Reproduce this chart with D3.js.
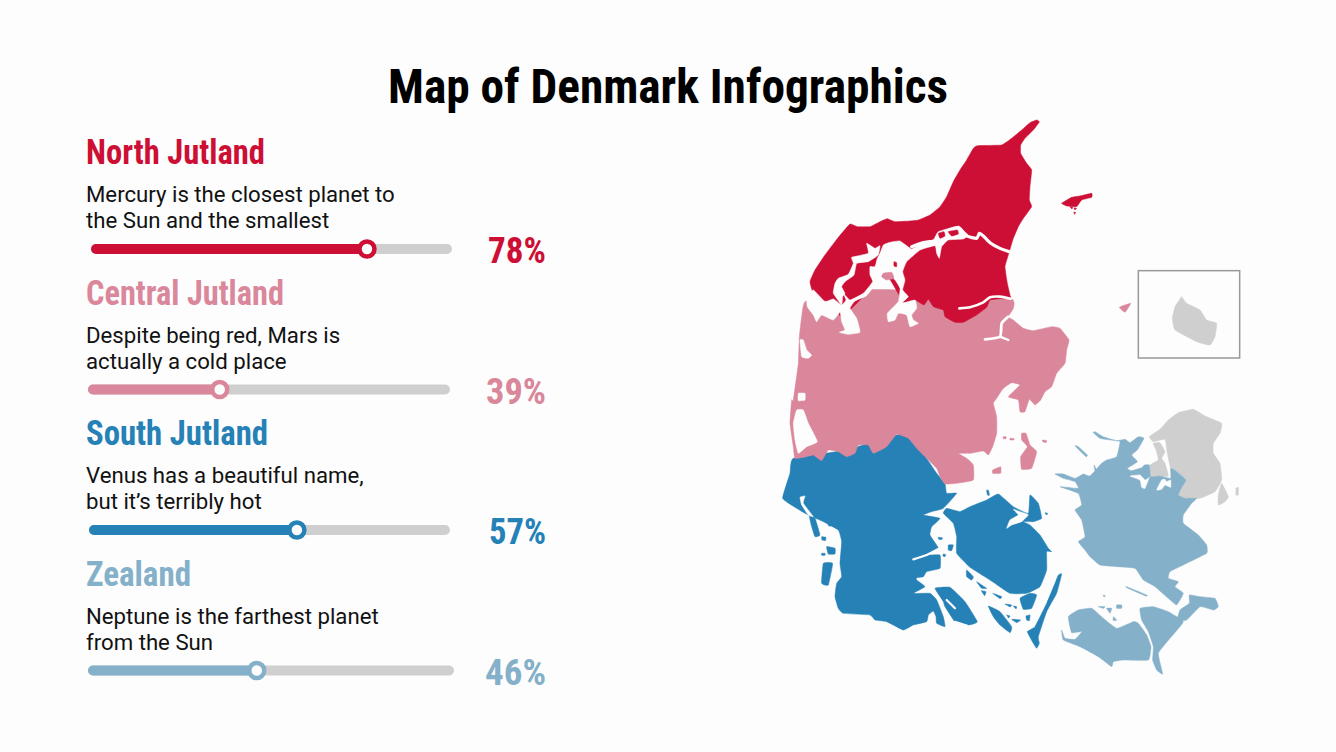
<!DOCTYPE html>
<html><head><meta charset="utf-8">
<script src="https://cdn.jsdelivr.net/npm/d3@7"></script>
<style>html,body{margin:0;padding:0;background:#fdfdfd}svg{display:block}</style>
</head><body><svg id="c" width="1336" height="752"></svg>
<script>
// ---------- chart values ----------
const title = "Map of Denmark Infographics";
const regions = ["North Jutland","Central Jutland","South Jutland","Zealand"];
const percents = [78,39,57,46];
const sliderReadings = [77.2,36,57.8,46];
const descriptions = [
 ["Mercury is the closest planet to","the Sun and the smallest"],
 ["Despite being red, Mars is","actually a cold place"],
 ["Venus has a beautiful name,","but it’s terribly hot"],
 ["Neptune is the farthest planet","from the Sun"]];
const colors = ["#cd0f35","#da879b","#2581b6","#84b0c9"];
const grey = "#cfcfcf", bg = "#fdfdfd";

// ---------- map outlines; each list has its own survey sheet ----------
const sheets = {
 n:{x:[0,1440,770,1250],y:[0,870,110,400]},
 s:{x:[0,1440,770,1250],y:[0,870,390,680]},
 e:{x:[0,870,780,1070],y:[0,510,480,650]},
 d:{x:[0,600,1050,1250],y:[0,390,400,530]},
 l:{x:[0,510,800,970],y:[0,330,225,335]}
};
const northMain=[[120,515],[135,480],[165,435],[195,395],[215,370],[240,342],[262,350],[300,350],[330,335],[352,326],[375,335],[420,333],[445,330],[480,315],[510,290],[530,260],[550,215],[570,180],[590,150],[610,115],[622,107],[695,105],[725,85],[755,60],[780,38],[800,30],[808,36],[790,60],[765,85],[752,105],[752,130],[770,160],[785,180],[780,230],[778,270],[785,290],[760,325],[745,350],[730,385],[718,425],[705,470],[712,520],[720,555],[722,566],[690,566],[660,570],[650,592],[620,615],[580,637],[555,637],[525,620],[520,600],[490,590],[475,568],[462,585],[435,570],[400,575],[340,480],[280,560],[215,620],[180,575],[150,570],[128,545]];
const laeso=[[875,280],[905,262],[930,258],[965,250],[965,262],[935,270],[920,290],[890,288]];
const laesoDots1=[[900,290],[908,291],[906,297]], laesoDots2=[[912,294],[920,295],[915,300]], laesoDots3=[[911,307],[917,307],[914,313]];
const limIslet1=[[505,370],[522,365],[525,378],[510,385]], limIslet2=[[535,365],[562,360],[565,372],[545,378]], limIslet3=[[372,455],[380,458],[380,470],[372,468]];

const centralMain=[[105,575],[95,620],[88,680],[85,760],[70,870],[65,870],[60,940],[70,1010],[75,1045],[110,1040],[130,1035],[155,1052],[175,1020],[205,1025],[230,1040],[255,1030],[265,1005],[295,1005],[310,1030],[350,1010],[380,973],[415,985],[440,1015],[470,1045],[500,1075],[510,1100],[525,1122],[560,1120],[610,1110],[610,1065],[590,1045],[565,1030],[600,1030],[640,1023],[655,1035],[668,1010],[680,970],[680,920],[670,880],[680,865],[700,835],[725,818],[750,825],[715,860],[745,870],[750,905],[765,905],[778,868],[795,885],[812,870],[825,845],[845,830],[860,790],[885,760],[890,720],[897,690],[870,655],[845,650],[790,662],[760,655],[730,630],[715,620],[730,595],[720,565],[400,540],[200,540]];
const anholt=[[1048,592],[1082,580],[1065,607]];
const samso=[[755,130],[768,130],[780,165],[800,185],[785,235],[755,238],[752,200],[772,170],[755,150]];
const isletC1=[[668,240],[692,230],[692,250],[668,250]], isletC2=[[700,140],[708,140],[708,146],[700,146]], isletC3=[[720,145],[732,146],[732,150],[720,150]], isletC4=[[818,150],[830,152],[828,158],[818,155]];
const mariagerPink=[[340,490],[365,487],[372,505],[350,510],[335,500]];

const southMain=[[40,-65],[30,-20],[8,55],[50,85],[75,100],[100,112],[130,125],[175,150],[185,185],[180,250],[185,290],[170,310],[165,350],[175,385],[190,400],[270,405],[285,420],[320,425],[370,450],[400,435],[440,425],[445,405],[460,393],[468,410],[470,430],[495,440],[490,410],[470,360],[450,340],[400,340],[435,320],[410,300],[410,293],[430,290],[440,275],[480,265],[480,225],[440,225],[475,205],[450,165],[455,140],[480,115],[430,105],[455,95],[490,85],[530,40],[500,40],[495,12],[470,-20],[380,-140],[200,-90]];
const fyn=[[500,85],[540,95],[570,80],[620,60],[655,42],[700,80],[745,100],[750,45],[775,70],[785,115],[760,125],[730,125],[750,135],[780,165],[805,205],[815,215],[800,215],[800,270],[780,320],[740,340],[690,340],[630,300],[570,262],[530,220],[530,170],[520,130],[490,100]];
const als=[[465,325],[510,322],[555,365],[592,425],[565,435],[525,425],[495,380],[490,365]];
const langeland=[[845,282],[830,340],[800,395],[775,470],[778,490],[770,505],[760,490],[742,455],[765,440],[800,370],[825,310],[835,285]];
const aero=[[625,378],[660,395],[695,440],[690,458],[660,435],[640,410]];
const tasinge=[[720,355],[750,340],[770,345],[755,385],[730,388]];
const fano=[[88,108],[105,115],[120,165],[105,170],[95,140]];
const romo=[[130,250],[158,250],[145,315],[125,310]];
const mando=[[140,200],[165,205],[165,222],[145,222]];
const southIslets=[
 [[125,170],[138,172],[136,182],[126,180]],[[125,220],[135,220],[135,226],[125,226]],[[145,130],[160,132],[158,138],[146,138]],
 [[505,195],[520,195],[515,212],[505,210]],[[475,172],[488,174],[484,179],[476,178]],[[490,222],[497,224],[495,230],[489,228]],
 [[560,270],[580,290],[575,300],[560,290]],[[590,305],[620,325],[605,325]],[[604,332],[618,335],[614,347]],
 [[638,340],[665,350],[660,356]],[[675,372],[695,375],[690,381]],[[700,378],[710,380],[708,387]],[[680,405],[690,408],[686,414]],
 [[695,418],[722,420],[710,428]],[[738,408],[750,405],[748,422],[740,420]],[[620,30],[626,32],[628,46],[622,44]],[[795,98],[803,100],[800,105]]];

const zealandMain=[[15,222],[40,222],[75,235],[100,222],[120,228],[155,190],[170,180],[200,170],[210,125],[180,120],[150,115],[130,98],[135,95],[160,110],[200,122],[225,118],[240,128],[265,110],[282,115],[262,150],[245,165],[262,185],[232,205],[245,212],[275,203],[283,195],[298,195],[302,230],[330,228],[362,235],[362,205],[380,215],[408,240],[395,262],[385,285],[405,295],[440,295],[425,310],[400,345],[400,370],[445,405],[470,435],[470,460],[410,490],[360,515],[355,535],[385,545],[375,560],[400,580],[380,615],[355,595],[315,560],[280,540],[255,505],[200,500],[150,495],[120,470],[105,450],[85,425],[105,410],[95,360],[75,330],[95,315],[85,280],[30,260],[85,265],[75,245],[40,235]];
const lolland=[[895,680],[925,660],[965,655],[1000,685],[1040,715],[1090,695],[1105,700],[1130,735],[1143,770],[1135,810],[1060,810],[1030,815],[1025,830],[985,800],[930,770],[880,750],[875,720],[885,745],[915,748],[935,725],[905,728]];
const falster=[[1110,655],[1150,650],[1195,665],[1240,695],[1200,745],[1165,790],[1178,852],[1160,840],[1148,810],[1150,770],[1135,725],[1115,690]];
const mon=[[1222,690],[1230,660],[1258,640],[1258,615],[1290,620],[1335,625],[1345,650],[1330,660],[1290,650],[1250,690]];
const zealandIslets=[[[75,138],[85,140],[112,165],[108,170]],[[132,195],[140,210],[135,212]]];
const southZealandIslets=[[[1040,645],[1055,645],[1055,655],[1040,655]],[[985,650],[1005,650],[1000,655]],[[1010,655],[1025,655],[1020,670]],[[1030,680],[1040,690],[1030,692]],[[1070,590],[1130,615],[1128,618],[1070,593]],[[1000,615],[1006,617],[1002,621]]];

const capitalMain=[[298,110],[330,88],[355,60],[385,38],[430,28],[465,48],[515,70],[510,100],[490,130],[490,160],[510,190],[515,240],[495,275],[450,295],[405,295],[385,285],[395,262],[408,240],[380,215],[362,205],[352,160],[345,118],[310,125]];
const capitalWest=[[310,130],[330,128],[345,155],[335,175],[345,190],[355,228],[330,228],[302,230],[300,195],[325,180],[318,150]];
const amager=[[515,250],[535,290],[525,305],[505,315],[505,285]];
const ven=[[558,265],[565,262],[565,285],[558,285]];
const bornholm=[[1235,560],[1250,580],[1290,600],[1310,630],[1340,640],[1335,680],[1320,705],[1280,695],[1215,660],[1207,625],[1215,590],[1228,570]];
const insetBox=[[1105,482],[1409,744]];

const limWestChannel=[[125,240],[100,205],[105,175],[115,160],[145,148],[160,115],[155,97],[205,85],[200,55],[225,70],[240,62],[235,90],[205,110],[170,115],[162,150],[135,170],[125,185],[135,205],[128,215]];
const limMain=[[240,85],[250,60],[270,52],[300,48],[335,72],[365,55],[400,45],[415,20],[470,5],[505,30],[490,42],[445,45],[425,65],[418,100],[410,85],[405,62],[360,75],[320,110],[308,140],[315,165],[308,195],[325,215],[305,235],[345,225],[350,250],[335,270],[340,285],[355,295],[330,305],[320,270],[295,265],[285,285],[265,290],[262,265],[295,230],[300,190],[285,165],[255,142],[240,150],[228,175],[200,212],[165,228],[150,250],[170,280],[180,322],[145,328],[118,322],[135,315],[125,290],[120,262],[100,285],[65,270],[50,290],[40,270],[22,245],[20,215],[40,195],[75,230],[100,222],[125,240],[138,225],[130,205],[150,225],[190,205],[218,170],[210,150],[210,125],[225,125],[232,100]];
const nissum=[[90,690],[100,690],[110,720],[125,735],[115,745],[95,740]];
const ringkobing=[[80,900],[100,900],[115,940],[142,995],[110,1010],[85,1030],[75,990],[70,940]];
const holmsland2=[[85,850],[105,850],[105,870],[85,872]];
const fynBay=[[680,145],[690,120],[715,105],[700,88],[735,100],[745,105],[725,125],[695,135]];
const roskildeWater=[[320,270],[335,240],[345,238],[350,245],[362,240],[362,262],[345,255],[335,268]];
const isefjordWater=[[240,228],[270,225],[285,240],[295,235],[298,232],[285,265],[275,262],[270,240]];
const limNarrows=[[718,425],[690,415],[660,398],[640,378],[628,370],[620,385],[590,378],[565,352],[525,365],[505,375],[495,392],[460,398],[425,410]];
const mariager=[[568,595],[600,592],[640,577],[660,562],[690,560],[722,566]];
const randers=[[715,620],[695,640],[690,680],[645,688]];
const randers2=[[690,680],[715,690]];
const koldingLine=[[400,238],[440,225],[475,207]];
const alsLine=[[500,360],[525,385]];
const alsLine2=[[525,425],[562,437]];
const skaerbaek=[[60,52],[75,48],[70,70],[100,110],[85,105],[65,75]];

// ---------- drawing ----------
const svg=d3.select("#c");
svg.append("rect").attr("width",1336).attr("height",752).attr("fill",bg);

const scales=Object.fromEntries(Object.entries(sheets).map(([k,v])=>[k,{
  x:d3.scaleLinear().domain(v.x.slice(0,2)).range(v.x.slice(2)),
  y:d3.scaleLinear().domain(v.y.slice(0,2)).range(v.y.slice(2))}]));
const lineFor=(k,closed)=>d3.line().x(d=>scales[k].x(d[0])).y(d=>scales[k].y(d[1]))
  .curve(closed?d3.curveCardinalClosed.tension(0.65):d3.curveCardinal.tension(0.5));
const land=svg.append("g");
function fillRing(k,pts,c){land.append("path").attr("d",lineFor(k,true)(pts)).attr("fill",c).attr("stroke",c).attr("stroke-width",.5).attr("stroke-linejoin","round");}
function strokeLine(k,pts,w){land.append("path").attr("d",lineFor(k,false)(pts)).attr("fill","none").attr("stroke",bg).attr("stroke-width",w).attr("stroke-linecap","round").attr("stroke-linejoin","round");}

fillRing("e",southMain,colors[2]);
fillRing("n",centralMain,colors[1]);
fillRing("n",northMain,colors[0]);
[laeso,laesoDots1,laesoDots2,laesoDots3].forEach(r=>fillRing("n",r,colors[0]));
fillRing("n",anholt,colors[1]);
[samso,isletC1,isletC2,isletC3,isletC4].forEach(r=>fillRing("s",r,colors[1]));
[fyn,als,langeland,aero,tasinge,fano,romo,mando,...southIslets].forEach(r=>fillRing("e",r,colors[2]));
[capitalMain,capitalWest,amager,ven].forEach(r=>fillRing("d",r,grey));
fillRing("d",zealandMain,colors[3]);
zealandIslets.forEach(r=>fillRing("d",r,colors[3]));
[lolland,falster,mon,...southZealandIslets].forEach(r=>fillRing("s",r,colors[3]));
fillRing("n",bornholm,grey);

[limMain,limWestChannel].forEach(r=>fillRing("l",r,bg));
[nissum,ringkobing,holmsland2].forEach(r=>fillRing("n",r,bg));
fillRing("e",fynBay,bg);
fillRing("e",skaerbaek,bg);
[roskildeWater,isefjordWater].forEach(r=>fillRing("d",r,bg));
strokeLine("n",limNarrows,3.2);
strokeLine("n",mariager,2.6);
strokeLine("n",randers,2.8);
strokeLine("n",randers2,2.4);
strokeLine("e",koldingLine,2.2);
strokeLine("e",alsLine,2.2);
strokeLine("e",alsLine2,1.8);
[limIslet1,limIslet2,limIslet3].forEach(r=>fillRing("n",r,colors[0]));
fillRing("n",mariagerPink,colors[1]);

svg.append("rect")
 .attr("x",scales.n.x(insetBox[0][0])).attr("y",scales.n.y(insetBox[0][1]))
 .attr("width",scales.n.x(insetBox[1][0])-scales.n.x(insetBox[0][0]))
 .attr("height",scales.n.y(insetBox[1][1])-scales.n.y(insetBox[0][1]))
 .attr("fill","none").attr("stroke","#999").attr("stroke-width",1.5);

const narrow="'Liberation Sans Narrow','Roboto Condensed','Arial Narrow',Roboto,sans-serif";
svg.append("text").attr("x",668).attr("y",103).attr("text-anchor","middle")
 .attr("font-family",narrow).attr("font-weight",700).attr("font-size",48)
 .attr("textLength",560).attr("lengthAdjust","spacingAndGlyphs").attr("fill","#000").text(title);

const rowY=d3.scalePoint().domain(regions).range([0,421.5]);
const trackStart=[96,93,94,93], trackEnd=[447,445,445,449];
const headWidths=[179,198,182,105];
const pctWidths=[58,60,57,61];
regions.forEach((r,i)=>{
 const g=svg.append("g").attr("transform",`translate(0,${rowY(r)})`);
 g.append("text").attr("x",86).attr("y",164).attr("font-family",narrow).attr("font-weight",700)
  .attr("font-size",35).attr("fill",colors[i]).attr("textLength",headWidths[i]).attr("lengthAdjust","spacingAndGlyphs").text(r);
 descriptions[i].forEach((t,j)=>g.append("text").attr("x",86).attr("y",202+j*26.3)
  .attr("font-family","Roboto,sans-serif").attr("font-size",22.2).attr("fill","#111").text(t));
 const x=d3.scaleLinear().domain([0,100]).range([trackStart[i],trackEnd[i]]);
 const y=249;
 g.append("line").attr("x1",x(0)).attr("x2",x(100)).attr("y1",y).attr("y2",y)
  .attr("stroke",grey).attr("stroke-width",10).attr("stroke-linecap","round");
 g.append("line").attr("x1",x(0)).attr("x2",x(sliderReadings[i])).attr("y1",y).attr("y2",y)
  .attr("stroke",colors[i]).attr("stroke-width",10).attr("stroke-linecap","round");
 g.append("circle").attr("cx",x(sliderReadings[i])).attr("cy",y).attr("r",7.5)
  .attr("fill",bg).attr("stroke",colors[i]).attr("stroke-width",4.5);
 g.append("text").attr("x",546).attr("y",263).attr("text-anchor","end").attr("font-family",narrow)
  .attr("font-weight",700).attr("font-size",36).attr("fill",colors[i])
  .attr("textLength",pctWidths[i]).attr("lengthAdjust","spacingAndGlyphs").text(percents[i]+"%");
});
</script></body></html>
